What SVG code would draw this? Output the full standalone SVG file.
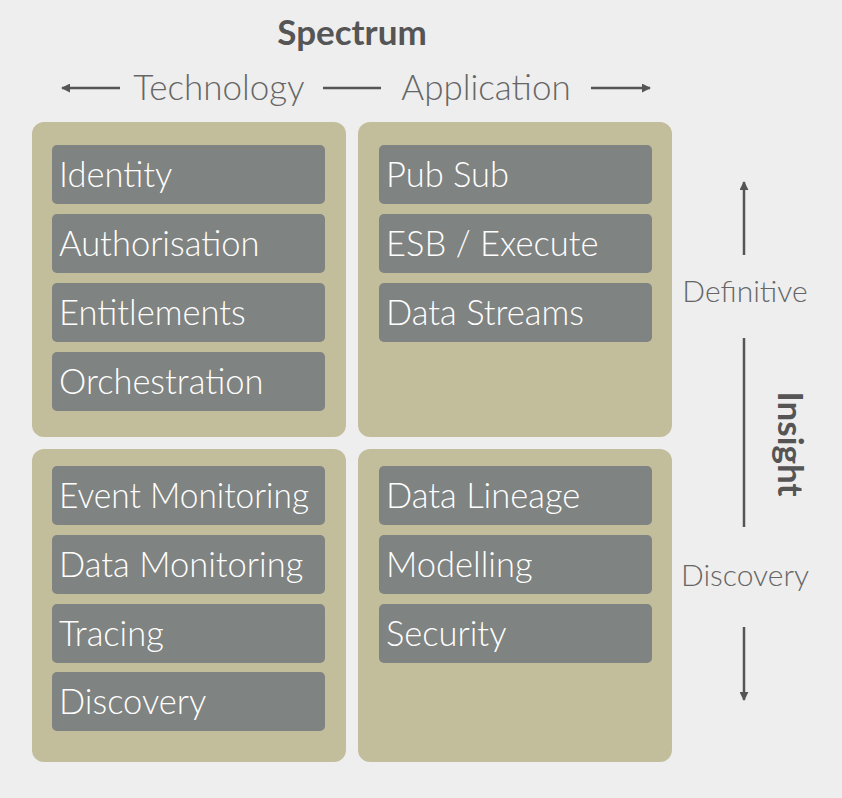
<svg xmlns="http://www.w3.org/2000/svg" width="842" height="798" viewBox="0 0 842 798">
<defs>
<marker id="ah" viewBox="0 0 10 10" refX="9" refY="5" markerWidth="9" markerHeight="9" markerUnits="userSpaceOnUse" orient="auto"><path d="M0,0 L10,5 L0,10 z" fill="#555"/></marker>
<style>
.panel{fill:#c2bd9b}
.box{fill:#7f8381}
.bt{font-family:Lato,"Open Sans",sans-serif;font-size:34.5px;font-weight:300;fill:#fff}
.lbl{font-family:Lato,"Open Sans",sans-serif;fill:#666;font-weight:300}
.ln{stroke:#555;stroke-width:2.5;fill:none}
</style>
</defs>
<rect width="842" height="798" fill="#eeeeee"/>
<g id="header">
<text x="352" y="45" text-anchor="middle" class="lbl" style="font-size:35px;font-weight:bold;fill:#555">Spectrum</text>
<text x="219" y="100" text-anchor="middle" class="lbl" style="font-size:35px">Technology</text>
<text x="486" y="100" text-anchor="middle" class="lbl" style="font-size:35px">Application</text>
</g>
<g id="connectors">
<line class="ln" x1="120" y1="88" x2="62" y2="88" marker-end="url(#ah)"/>
<line class="ln" x1="323" y1="88" x2="381" y2="88"/>
<line class="ln" x1="591" y1="88" x2="650" y2="88" marker-end="url(#ah)"/>
<line class="ln" x1="744" y1="255" x2="744" y2="182" marker-end="url(#ah)"/>
<line class="ln" x1="744" y1="338" x2="744" y2="527"/>
<line class="ln" x1="744" y1="627" x2="744" y2="700" marker-end="url(#ah)"/>
</g>
<g id="axis">
<text x="745" y="302" text-anchor="middle" class="lbl" style="font-size:30px">Definitive</text>
<text x="745" y="586" text-anchor="middle" class="lbl" style="font-size:30px">Discovery</text>
<text transform="translate(778,444) rotate(90)" text-anchor="middle" class="lbl" style="font-size:35px;font-weight:bold;fill:#555">Insight</text>
</g>
<g id="panel-tl"><rect class="panel" x="32" y="122" width="314" height="315" rx="12"/>
<g id="identity"><rect class="box" x="52" y="145" width="273" height="59" rx="5"/><text class="bt" x="59" y="187">Identity</text></g>
<g id="authorisation"><rect class="box" x="52" y="214" width="273" height="59" rx="5"/><text class="bt" x="59" y="256">Authorisation</text></g>
<g id="entitlements"><rect class="box" x="52" y="283" width="273" height="59" rx="5"/><text class="bt" x="59" y="325">Entitlements</text></g>
<g id="orchestration"><rect class="box" x="52" y="352" width="273" height="59" rx="5"/><text class="bt" x="59" y="394">Orchestration</text></g>
</g>
<g id="panel-tr"><rect class="panel" x="358" y="122" width="314" height="315" rx="12"/>
<g id="pubsub"><rect class="box" x="379" y="145" width="273" height="59" rx="5"/><text class="bt" x="386" y="187">Pub Sub</text></g>
<g id="esb"><rect class="box" x="379" y="214" width="273" height="59" rx="5"/><text class="bt" x="386" y="256">ESB / Execute</text></g>
<g id="datastreams"><rect class="box" x="379" y="283" width="273" height="59" rx="5"/><text class="bt" x="386" y="325">Data Streams</text></g>
</g>
<g id="panel-bl"><rect class="panel" x="32" y="449" width="314" height="313" rx="12"/>
<g id="eventmon"><rect class="box" x="52" y="466" width="273" height="59" rx="5"/><text class="bt" x="59" y="508" textLength="250" lengthAdjust="spacingAndGlyphs">Event Monitoring</text></g>
<g id="datamon"><rect class="box" x="52" y="535" width="273" height="59" rx="5"/><text class="bt" x="59" y="577">Data Monitoring</text></g>
<g id="tracing"><rect class="box" x="52" y="604" width="273" height="59" rx="5"/><text class="bt" x="59" y="646">Tracing</text></g>
<g id="discovery"><rect class="box" x="52" y="672" width="273" height="59" rx="5"/><text class="bt" x="59" y="714">Discovery</text></g>
</g>
<g id="panel-br"><rect class="panel" x="358" y="449" width="314" height="313" rx="12"/>
<g id="lineage"><rect class="box" x="379" y="466" width="273" height="59" rx="5"/><text class="bt" x="386" y="508">Data Lineage</text></g>
<g id="modelling"><rect class="box" x="379" y="535" width="273" height="59" rx="5"/><text class="bt" x="386" y="577">Modelling</text></g>
<g id="security"><rect class="box" x="379" y="604" width="273" height="59" rx="5"/><text class="bt" x="386" y="646">Security</text></g>
</g>
</svg>
